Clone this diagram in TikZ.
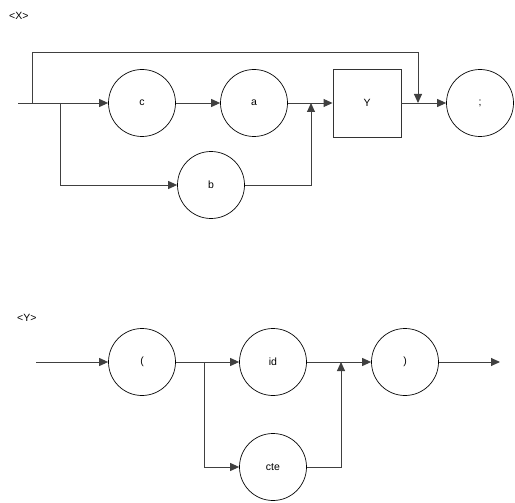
\documentclass[tikz,border=0pt]{standalone}
\usepackage{fontspec}
\setmainfont{Liberation Sans}
\usetikzlibrary{arrows.meta}
\begin{document}
\begin{tikzpicture}[x=1pt,y=-1pt,
  every node/.style={font=\fontsize{10.5}{12}\selectfont},
  term/.style={circle,draw=black,line width=0.7pt,minimum size=67pt,inner sep=0pt},
  nonterm/.style={rectangle,draw=black!80,line width=0.9pt,minimum width=68pt,minimum height=68pt,inner sep=0pt},
  conn/.style={draw=black!75,line width=0.95pt},
  arr/.style={conn,-{Triangle[length=9pt,width=8pt]}}]
\useasboundingbox (0,0) rectangle (515,503);
% ---- <X> ----
\node[anchor=west,inner sep=0pt] (lx) at (9,16) {<X>};
\node[term] (c) at (142,103) {c};
\node[term] (a) at (254,103) {a};
\node[nonterm] (Y) at (367,103) {Y};
\node[term] (semi) at (480,103) {;};
\node[term] (b) at (211,185) {b};
\coordinate (s) at (18,103);
\coordinate (j1) at (32,103);
\coordinate (j2) at (60,103);
\coordinate (tl) at (32,52);
\coordinate (tr) at (418,52);
\coordinate (m) at (418,103);
\coordinate (j3) at (311,103);
\draw[arr] (s) -- (c);
\draw[arr] (j1) -- (tl) -- (tr) -- (m);
\draw[arr] (j2) |- (b);
\draw[arr] (c) -- (a);
\draw[arr] (a) -- (Y);
\draw[arr] (b) -| (j3);
\draw[arr] (Y) -- (semi);
% ---- <Y> ----
\node[anchor=west,inner sep=0pt] (ly) at (17,318) {<Y>};
\node[term] (po) at (142,362) {(};
\node[term] (id) at (273,362) {id};
\node[term] (cte) at (273,467) {cte};
\node[term] (pc) at (405,362) {)};
\coordinate (s2) at (36,362);
\coordinate (k1) at (204,362);
\coordinate (k2) at (341,362);
\coordinate (e2) at (500,362);
\draw[arr] (s2) -- (po);
\draw[arr] (po) -- (id);
\draw[arr] (k1) |- (cte);
\draw[arr] (id) -- (pc);
\draw[arr] (cte) -| (k2);
\draw[arr] (pc) -- (e2);
\end{tikzpicture}
\end{document}
